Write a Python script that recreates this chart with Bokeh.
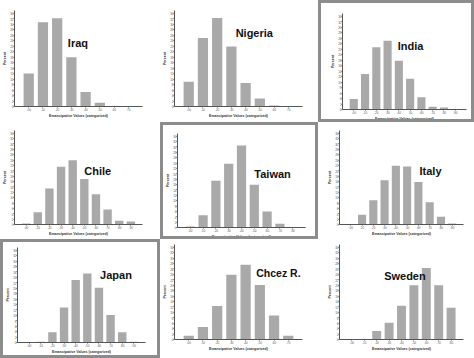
from bokeh.plotting import figure
from bokeh.layouts import gridplot
from bokeh.models import Range1d, FixedTicker, Label
from bokeh.embed import file_html
from bokeh.resources import INLINE

# ---- data (percent of respondents per category) ----
countries = ["Iraq", "Nigeria", "India", "Chile", "Taiwan", "Italy", "Japan", "Chcez R.", "Sweden"]

iraq = [12.0, 30.7, 32.2, 18.0, 5.3, 1.4, 0.2, 0.1]
nigeria = [9.0, 25.0, 32.3, 21.9, 8.6, 2.9, 0.4, 0.1]
india = [3.8, 12.9, 22.7, 25.1, 17.8, 11.2, 4.5, 1.0, 0.7, 0.1]
chile = [0.4, 4.6, 13.4, 21.5, 23.9, 16.9, 11.3, 5.6, 1.4, 1.1]
taiwan = [0.4, 4.6, 17.4, 23.7, 30.5, 15.9, 6.0, 1.4, 0.1]
italy = [0.1, 3.6, 9.0, 16.5, 21.9, 21.6, 15.8, 8.3, 2.9, 0.4]
japan = [0.1, 0.3, 3.8, 12.9, 23.0, 25.4, 20.2, 10.1, 3.8, 0.3]
czech = [1.4, 4.6, 12.3, 23.9, 27.5, 20.1, 8.8, 1.4]
sweden = [0.1, 0.2, 3.1, 6.2, 12.4, 20.0, 26.3, 20.0, 11.7]

series = [iraq, nigeria, india, chile, taiwan, italy, japan, czech, sweden]

value_bins = [".00", ".10", ".20", ".30", ".40", ".50", ".60", ".70", ".80", ".90"]
percent_ticks = list(range(0, 36, 2))

x_label = "Emancipative Values (categorized)"
y_label = "Percent"

# ---- layout / style ----
col_w = [160, 158, 156]
row_h = [122, 117, 119]
BORDER = 3
highlighted = {"India", "Taiwan", "Japan"}
col_lr = [(13, 15), (13, 13), (21, 8)]
row_tb = [(10, 13), (8, 12), (5, 16)]
title_pos = {
    "Iraq": (3.75, 23.0), "Nigeria": (4.3, 26.9), "India": (4.9, 23.3),
    "Chile": (6.0, 19.8), "Taiwan": (6.0, 20.1), "Italy": (7.1, 19.8),
    "Japan": (7.1, 24.7), "Chcez R.": (5.75, 24.4), "Sweden": (3.6, 23.3),
}
FONT = "Liberation Sans"
BAR = "#a9a9a9"
AXIS = "#555555"

figs = []
for i, (name, vals) in enumerate(zip(countries, series)):
    r, c = divmod(i, 3)
    l, rt = col_lr[c]
    t, b = row_tb[r]
    w, h = col_w[c], row_h[r]
    kw = {}
    if name in highlighted:
        # canvas is offset by the border and clipped inside it
        l, rt, t, b = l - BORDER, rt + BORDER, t - BORDER, b + BORDER
        kw["styles"] = {"border": f"{BORDER}px solid #8c8c8c"}
    n = len(vals)
    xs = list(range(1, n + 1))
    p = figure(width=w, height=h, output_backend="svg", toolbar_location=None,
               x_range=Range1d(0, n + 1), y_range=Range1d(0, 35),
               min_border_left=l, min_border_right=rt, min_border_top=t, min_border_bottom=b,
               **kw)
    p.vbar(x=xs, top=vals, width=0.72, color=BAR, line_color=None)
    p.xgrid.visible = False
    p.ygrid.visible = False
    p.outline_line_color = None

    xa = p.xaxis[0]
    xa.ticker = FixedTicker(ticks=xs)
    xa.major_label_overrides = {x: value_bins[k] for k, x in enumerate(xs)}
    xa.axis_label = x_label
    ya = p.yaxis[0]
    ya.ticker = FixedTicker(ticks=percent_ticks)
    ya.axis_label = y_label
    for ax in (xa, ya):
        ax.axis_line_color = AXIS
        ax.axis_line_width = 1
        ax.major_tick_line_color = AXIS
        ax.major_tick_out = 1
        ax.major_tick_in = 0
        ax.minor_tick_line_color = None
        ax.major_label_text_font = FONT
        ax.major_label_text_font_size = "3px"
        ax.major_label_text_color = "#555555"
        ax.major_label_standoff = 0
        ax.axis_label_text_font = FONT
        ax.axis_label_text_font_size = "3.6px"
        ax.axis_label_text_font_style = "bold"
        ax.axis_label_text_color = "#333333"
        ax.axis_label_standoff = 0

    tx, ty = title_pos[name]
    p.add_layout(Label(x=tx, y=ty, text=name, text_font=FONT, text_font_style="bold",
                       text_font_size="10.5px" if name == "Chcez R." else "11px",
                       text_color="#111111",
                       text_baseline="middle", text_align="left"))
    figs.append(p)

grid = gridplot([figs[0:3], figs[3:6], figs[6:9]], toolbar_location=None)

open("out.html", "w").write(file_html(grid, INLINE))
